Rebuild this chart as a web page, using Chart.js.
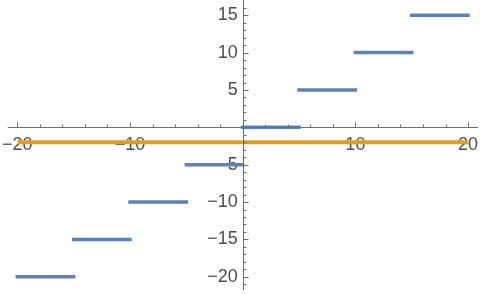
<!DOCTYPE html>
<html><head><meta charset="utf-8">
<style>html,body{margin:0;padding:0;background:#fff}#wrap{width:480px;height:294px;position:relative}</style>
<script src="https://cdn.jsdelivr.net/npm/chart.js@4/dist/chart.umd.min.js"></script>
</head><body><div id="wrap"><canvas id="c" width="480" height="294"></canvas></div>
<script>
// step function segments
const stepStarts = [-20, -15, -10, -5, 0, 5, 10, 15];
const stepEnds   = [-15, -10, -5, 0, 5, 10, 15, 20];
const stepValues = [-20, -15, -10, -5, 0, 5, 10, 15];
// horizontal reference line
const refLineX = [-20, 20];
const refLineY = [-2, -2];
// tick labels
const xTickLabels = [-20, -10, 10, 20];
const yTickLabels = [-20, -15, -10, -5, 5, 10, 15];

const BLUE = '#5E81B5', ORANGE = '#E19C24', AXIS = '#6e6e6e', TXT = '#4d4d4d';
const fmt = v => (v < 0 ? '\u2212' + Math.abs(v) : String(v));

const stepData = [];
stepStarts.forEach((s, i) => {
  stepData.push({x: s, y: stepValues[i]});
  stepData.push({x: stepEnds[i], y: stepValues[i]});
  stepData.push({x: stepEnds[i], y: null});
});
const refData = refLineX.map((x, i) => ({x, y: refLineY[i]}));

const noPad = s => { s.paddingTop = 0; s.paddingBottom = 0; s.paddingLeft = 0; s.paddingRight = 0; };

const axesPlugin = {
  id: 'mmaAxes',
  afterDatasetsDraw(chart) {
    const ctx = chart.ctx, xs = chart.scales.x, ys = chart.scales.y;
    const x0 = xs.getPixelForValue(0), y0 = ys.getPixelForValue(0);
    ctx.save();
    ctx.strokeStyle = AXIS; ctx.lineWidth = 1;
    ctx.beginPath();
    ctx.moveTo(xs.getPixelForValue(-20.85), Math.round(y0) + 0.5);
    ctx.lineTo(xs.getPixelForValue(20.9), Math.round(y0) + 0.5);
    ctx.moveTo(Math.round(x0) + 0.5, ys.getPixelForValue(17.2));
    ctx.lineTo(Math.round(x0) + 0.5, ys.getPixelForValue(-21.8));
    ctx.stroke();
    ctx.beginPath();
    for (let v = -20; v <= 20; v += 2) {
      if (v === 0) continue;
      const p = Math.round(xs.getPixelForValue(v)) + 0.5;
      const len = (v % 10 === 0) ? 4.5 : 2.5;
      ctx.moveTo(p, Math.round(y0));
      ctx.lineTo(p, Math.round(y0) - len);
    }
    for (let v = -21; v <= 16; v += 1) {
      if (v === 0) continue;
      const p = Math.round(ys.getPixelForValue(v)) + 0.5;
      const len = (v % 5 === 0) ? 4.5 : 2.5;
      ctx.moveTo(Math.round(x0) + 1, p);
      ctx.lineTo(Math.round(x0) + 1 + len, p);
    }
    ctx.stroke();
    ctx.restore();
  }
};

new Chart(document.getElementById('c'), {
  type: 'line',
  data: {
    datasets: [
      {data: stepData, borderColor: BLUE, borderWidth: 3.5, borderCapStyle: 'square', pointRadius: 0, spanGaps: false, tension: 0},
      {data: refData, borderColor: ORANGE, borderWidth: 4, borderCapStyle: 'butt', pointRadius: 0, tension: 0}
    ]
  },
  options: {
    responsive: false,
    animation: false,
    layout: {padding: 0},
    plugins: {legend: {display: false}, tooltip: {enabled: false}},
    scales: {
      x: {
        type: 'linear', position: {y: 0}, min: -21.54, max: 21.06, z: 1,
        border: {display: false},
        grid: {display: false, drawTicks: false},
        afterBuildTicks: s => { s.ticks = xTickLabels.map(v => ({value: v})); },
        afterFit: noPad,
        ticks: {
          autoSkip: false, maxRotation: 0, padding: 7, color: TXT,
          font: {family: "'Liberation Sans', Arial, sans-serif", size: 18},
          showLabelBackdrop: true, backdropColor: '#ffffff', backdropPadding: 0,
          callback: v => fmt(v)
        }
      },
      y: {
        type: 'linear', position: {x: 0}, min: -22.3, max: 17.04, z: 1,
        border: {display: false},
        grid: {display: false, drawTicks: false},
        afterBuildTicks: s => { s.ticks = yTickLabels.map(v => ({value: v})); },
        afterFit: noPad,
        ticks: {
          autoSkip: false, padding: 0, color: TXT,
          font: {family: "'Liberation Sans', Arial, sans-serif", size: 18},
          callback: v => fmt(v) + ' '
        }
      }
    }
  },
  plugins: [axesPlugin]
});
</script></body></html>
